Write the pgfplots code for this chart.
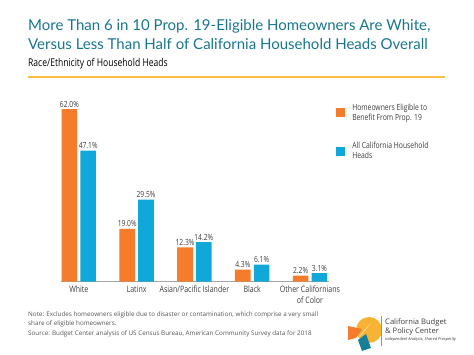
\documentclass[border=0pt]{standalone}
\usepackage{fontspec}
\setmainfont{Open Sans}
\newfontfamily\titlefont{Lato}
\newfontfamily\condfont[FakeStretch=0.80]{Open Sans}
\usepackage{pgfplots}
\pgfplotsset{compat=1.18}
\definecolor{cborange}{RGB}{244,124,42}
\definecolor{cbblue}{RGB}{16,168,216}
\definecolor{cbteal}{RGB}{24,118,140}
\definecolor{cbgold}{RGB}{248,190,70}
\definecolor{cbtext}{RGB}{60,60,60}
\definecolor{cbnote}{RGB}{85,85,85}
\definecolor{logoyellow}{RGB}{248,178,52}
\definecolor{logopink}{RGB}{200,120,150}
\begin{document}
\begin{tikzpicture}[x=1pt,y=1pt]
\path[use as bounding box] (0,0) rectangle (474,355);
% title
\node[anchor=base west,inner sep=0,text=cbteal,font=\titlefont\fontsize{15.0}{18}\selectfont] at (28,355-31) {More Than 6 in 10 Prop. 19-Eligible Homeowners Are White,};
\node[anchor=base west,inner sep=0,text=cbteal,font=\titlefont\fontsize{15.0}{18}\selectfont] at (28,355-50) {Versus Less Than Half of California Household Heads Overall};
\node[anchor=base west,inner sep=0,text=black,font=\condfont\fontsize{10.7}{12}\selectfont] at (28,355-67) {Race/Ethnicity of Household Heads};
\draw[cbgold,line width=1.2pt] (28,355-77) -- (445,355-77);
\begin{axis}[
  at={(60.7pt,73.3pt)}, anchor=south west,
  width=268.6pt, height=181pt, scale only axis,
  ymin=0, ymax=65, xmin=-0.313, xmax=4.334,
  axis x line*=bottom, axis y line=none,
  x axis line style={draw=gray!70, line width=0.8pt, -},
  ybar, bar width=15.6pt,
  xtick={0,1,2,3,4}, major tick length=0pt,
  xticklabels={White,Latinx,Asian/Pacific Islander,Black,{Other Californians\\of Color}},
  xticklabel style={font=\condfont\fontsize{8.8}{10.5}\selectfont, text=cbtext, align=center, yshift=-1pt},
  /pgf/number format/assume math mode=true,
  nodes near coords={\pgfmathprintnumber[fixed,fixed zerofill,precision=1,assume math mode=true]{\pgfplotspointmeta}\%},
  nodes near coords style={font=\condfont\fontsize{8.4}{9}\selectfont, text=cbtext, inner sep=1.5pt},
  legend style={at={(1.014,1.0)}, anchor=north west, draw=none, fill=none,
    font=\condfont\fontsize{8.5}{10.2}\selectfont, text=cbtext,
    nodes={align=left, inner sep=1pt}, row sep=18pt, legend cell align=left},
  legend image code/.code={\fill[#1,draw=none] (0pt,-4.5pt) rectangle (9pt,4.5pt);},
]
\addplot[fill=cborange, draw=none, bar shift=-9.4pt] coordinates {(0,62.0) (1,19.0) (2,12.3) (3,4.3) (4,2.2)};
\addplot[fill=cbblue, draw=none, bar shift=9.4pt] coordinates {(0,47.1) (1,29.5) (2,14.2) (3,6.1) (4,3.1)};
\legend{{\hspace{6pt}Homeowners Eligible to\\\hspace{6pt}Benefit From Prop. 19},{\hspace{6pt}All California Household\\\hspace{6pt}Heads}}
\end{axis}
% notes
\begin{scope}[every node/.style={anchor=base west,inner sep=0,text=cbnote,font=\fontsize{6.3}{8}\selectfont}]
\node at (28,355-317) {Note: Excludes homeowners eligible due to disaster or contamination, which comprise a very small};
\node at (28,355-326) {share of eligible homeowners.};
\node at (28,355-336) {Source: Budget Center analysis of US Census Bureau, American Community Survey data for 2018};
\end{scope}
% logo
\fill[logoyellow] (369,355-330) circle (13);
\fill[cborange] (348,355-326) -- (362,355-329) -- (356,355-338) -- (348,355-340) -- cycle;
\fill[cbteal!80!cbblue] (358,355-340) -- (366,355-334) -- (371,355-348) -- (362,355-351) -- cycle;
\fill[white] (356,355-340) -- (371,355-323) -- (362,355-334) -- cycle;
\draw[logopink,line width=0.6pt] (381,355-316) -- (381,355-346);
\node[anchor=base west,inner sep=0,text=cbtext,font=\fontsize{7.6}{9}\selectfont] at (385,355-325) {California Budget};
\node[anchor=base west,inner sep=0,text=cbtext,font=\fontsize{7.6}{9}\selectfont] at (385,355-334) {\& Policy Center};
\node[anchor=base west,inner sep=0,text=cbtext,font=\itshape\fontsize{4}{5}\selectfont] at (385,355-341) {Independent Analysis, Shared Prosperity};
\end{tikzpicture}
\end{document}
